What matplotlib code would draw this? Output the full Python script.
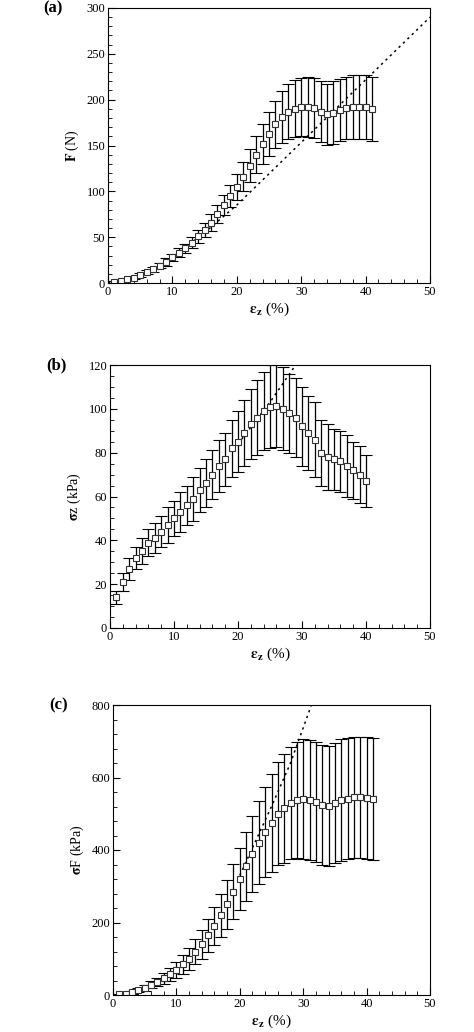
import matplotlib.pyplot as plt
import numpy as np
from matplotlib.ticker import MultipleLocator

plt.rcParams['font.family'] = ['Liberation Serif', 'DejaVu Serif']
plt.rcParams['mathtext.fontset'] = 'stix'

# panel a: force
xa = list(range(1, 42))
Fa = [1, 2, 4, 6, 9, 12, 15, 19, 23, 28, 33, 38, 44, 51, 58, 66, 75, 85, 95, 105,
      116, 128, 140, 152, 163, 173, 181, 187, 190, 192, 192, 191, 187, 184, 186, 189,
      191, 192, 192, 192, 190]
Fa_err = [1, 1, 1, 2, 2, 2, 3, 3, 4, 4, 5, 5, 6, 7, 8, 9, 10, 11, 12, 14,
          16, 18, 20, 22, 24, 26, 28, 30, 31, 32, 33, 33, 33, 33, 34, 34,
          34, 35, 35, 35, 35]
line_a_x = [0, 5, 10, 15, 20, 50]
line_a_y = [0, 8, 28, 55, 85, 290]

# panel b: sigma z
xb = list(range(1, 41))
Sb = [14, 21, 27, 32, 35, 39, 41, 44, 47, 50, 53, 56, 59, 63, 66, 70, 74, 77, 82, 85,
      89, 93, 96, 99, 101, 101.5, 100, 98, 96, 92, 89, 86, 80, 78, 77, 76, 74, 72, 70, 67]
Sb_err = [3, 4, 5, 5, 6, 6, 7, 7, 8, 8, 9, 9, 10, 10, 11, 11, 12, 12, 13, 14,
          15, 16, 17, 18, 19, 19, 19, 18, 18, 18, 17, 17, 15, 15, 14, 14, 14, 13, 13, 12]
line_b_x = [20, 25, 29]
line_b_y = [84, 103, 120]

# panel c: sigma F
xc = list(range(1, 42))
Sc = [2, 4, 8, 14, 20, 28, 36, 46, 57, 70, 85, 100, 120, 140, 165, 190, 220, 250, 285, 320,
      355, 390, 420, 450, 475, 500, 515, 530, 538, 540, 538, 532, 525, 522, 530, 538,
      542, 545, 545, 543, 540]
Sc_err = [2, 3, 4, 6, 8, 10, 12, 15, 18, 22, 26, 30, 35, 40, 46, 52, 60, 68, 76, 86,
          95, 105, 115, 125, 135, 142, 150, 155, 160, 165, 165, 165, 165, 165, 165, 168,
          168, 168, 168, 168, 168]
line_c_x = [20, 25, 28, 31.5]
line_c_y = [330, 520, 640, 810]

fig = plt.figure(figsize=(4.74, 10.32), dpi=100)
axes = [fig.add_axes([108/474, 1-283/1032, 322/474, 275/1032]),
        fig.add_axes([110/474, 1-628/1032, 320/474, 263/1032]),
        fig.add_axes([113/474, 1-995/1032, 317/474, 290/1032])]

panels = [
    (xa, Fa, Fa_err, line_a_x, line_a_y, 300, 50, 10, r'$\mathbf{F}$ (N)', '(a)'),
    (xb, Sb, Sb_err, line_b_x, line_b_y, 120, 20, 5, r'$\mathbf{\sigma}$z (kPa)', '(b)'),
    (xc, Sc, Sc_err, line_c_x, line_c_y, 800, 200, 40, r'$\mathbf{\sigma}$F (kPa)', '(c)'),
]

for ax, (x, y, e, lx, ly, ymax, ymaj, ymin, ylab, tag) in zip(axes, panels):
    ax.errorbar(x, y, yerr=e, fmt='s', mfc='white', mec='#333333', ms=5, mew=0.8,
                ecolor='black', elinewidth=0.9, capsize=4, capthick=0.9, clip_on=True)
    ax.plot(lx, ly, linestyle=(0, (1.5, 2.5)), color='black', lw=1.1)
    ax.set_xlim(0, 50)
    ax.set_ylim(0, ymax)
    ax.xaxis.set_major_locator(MultipleLocator(10))
    ax.xaxis.set_minor_locator(MultipleLocator(2))
    ax.yaxis.set_major_locator(MultipleLocator(ymaj))
    ax.yaxis.set_minor_locator(MultipleLocator(ymin))
    ax.tick_params(which='both', direction='in', labelsize=9)
    ax.tick_params(which='major', length=5, pad=2)
    ax.tick_params(which='minor', length=3)
    ax.set_xlabel(r'$\mathbf{\varepsilon_z}$ (%)', fontsize=11, labelpad=2)
    ax.set_ylabel(ylab, fontsize=10)
    ax.text(-0.2, 1.0, tag, transform=ax.transAxes, fontsize=12, fontweight='bold',
            va='center', ha='left')

fig.savefig('out.png', dpi=100)
